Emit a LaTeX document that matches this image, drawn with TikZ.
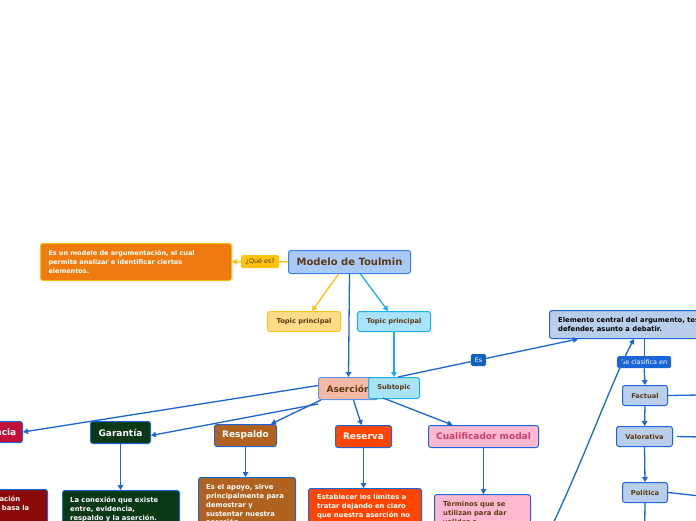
\documentclass[tikz,border=0pt]{standalone}
\usepackage{fontspec}
\setmainfont{DejaVu Sans}
\usetikzlibrary{arrows.meta,calc}
\definecolor{lblue}{HTML}{1A66D6}
\definecolor{mfill}{HTML}{A9C9F7}
\definecolor{mdraw}{HTML}{3B82E8}
\definecolor{yline}{HTML}{FFC20E}
\definecolor{yfill}{HTML}{FFDD88}
\definecolor{ydraw}{HTML}{FFC41F}
\definecolor{cline}{HTML}{1AAEEF}
\definecolor{cfill}{HTML}{A9E3FA}
\definecolor{ofill}{HTML}{EE7A10}
\definecolor{odraw}{HTML}{FDB913}
\definecolor{afill}{HTML}{F6B9A5}
\definecolor{brown}{HTML}{5B3A13}
\definecolor{evred}{HTML}{C2103B}
\definecolor{evdark}{HTML}{8A0A0A}
\definecolor{gargreen}{HTML}{0B3815}
\definecolor{respbrown}{HTML}{B0621E}
\definecolor{resred}{HTML}{FF4500}
\definecolor{pinkfill}{HTML}{FFB8CF}
\definecolor{pinktext}{HTML}{C8406A}
\definecolor{efill}{HTML}{B9CEEA}
\definecolor{esblue}{HTML}{1060C0}
\tikzset{
  box/.style={draw=lblue, line width=1pt, rounded corners=2.5pt, inner sep=0pt, anchor=north west, align=center},
  small/.style={font=\bfseries\fontsize{6.7}{8.8}\selectfont},
  big/.style={font=\bfseries\fontsize{9}{11}\selectfont},
  lbl/.style={inner sep=0pt, anchor=north west, rounded corners=1.5pt, font=\fontsize{6.4}{8}\selectfont},
  txt/.style={inner sep=0pt, anchor=north west, align=left, font=\bfseries\fontsize{6.8}{8.9}\selectfont},
  conn/.style={draw=lblue, line width=1.3pt},
  arr/.style={conn, -{Triangle[length=5pt,width=5.5pt]}},
  yarr/.style={draw=yline, line width=1.3pt},
  carr/.style={draw=cline, line width=1.3pt, -{Triangle[length=5pt,width=5.5pt]}},
}
\begin{document}
\begin{tikzpicture}[x=1pt,y=-1pt]
\useasboundingbox (0,0) rectangle (696,520);
\clip (0,0) rectangle (696,520);
\fill[white] (0,0) rectangle (696,520);

% central
\node[box, fill=mfill, draw=mdraw, minimum width=122pt, minimum height=23pt, text=brown, font=\bfseries\fontsize{10}{12}\selectfont] (modelo) at (288,250) {Modelo de Toulmin};
\node[lbl, fill=yline, text=brown, minimum width=38pt, minimum height=13pt] (que) at (241,255) {¿Qué es?};
\node[box, fill=ofill, draw=odraw, minimum width=191pt, minimum height=37pt, text=white, font=\bfseries\fontsize{6.5}{8.6}\selectfont, text width=175pt, align=left] (esun) at (40,243) {Es un modelo de argumentación, el cual\\permite analizar e identificar ciertos\\elementos.};
\draw[yarr] (modelo.west) -- (que.east);
\draw[yarr, -{Triangle[length=5pt,width=5.5pt]}] (que.west) -- (esun.east);

\node[box, fill=yfill, draw=ydraw, minimum width=73pt, minimum height=20pt, text=brown, small] (topy) at (267,311) {Topic principal};
\node[box, fill=cfill, draw=cline, minimum width=73pt, minimum height=20pt, text=brown, small] (topc) at (357,311) {Topic principal};
\draw[yarr, -{Triangle[length=5pt,width=5.5pt]}] ([xshift=-11pt]modelo.south) -- ([xshift=8pt]topy.north);
\draw[carr] ([xshift=11pt]modelo.south) -- ([xshift=-6pt]topc.north);

\node[box, fill=afill, draw=lblue!70, minimum width=60pt, minimum height=22pt, text=brown, big] (aser) at (318,377) {Aserción};
\draw[arr] (modelo.south) -- (aser.north);
\node[box, fill=cfill, draw=cline, minimum width=51pt, minimum height=21pt, text=brown, small] (sub) at (368,377) {Subtopic};
\draw[carr] (topc.south) -- (sub.north);

% right part
\node[box, fill=efill, minimum width=190pt, minimum height=28pt, text=black] (elem) at (549,310) {};
\node[txt, text=black] (elemt) at (558,317) {Elemento central del argumento, tesis a\\defender, asunto a debatir.};
\coordinate (esa) at ([xshift=4pt]sub.north);
\coordinate (esb) at ([xshift=29pt]elem.south west);
\node[lbl, fill=esblue, text=white, minimum width=15pt, minimum height=12pt, anchor=center] (es) at ($(esa)!0.447!(esb)$) {Es};
\draw[conn] (esa) -- (es);
\draw[arr] (es) -- (esb);

\node[box, fill=efill, minimum width=45pt, minimum height=20pt, text=brown, small] (factual) at (622,385) {Factual};
\node[box, fill=efill, minimum width=56pt, minimum height=20pt, text=brown, small] (valor) at (616,426) {Valorativa};
\node[box, fill=efill, minimum width=45pt, minimum height=20pt, text=brown, small] (polit) at (622,482) {Política};
\node[lbl, fill=lblue, text=white, minimum width=54pt, minimum height=12pt] (seclas) at (617,356) {Se clasifica en};
\draw[conn] (seclas.north |- elem.south) -- (seclas.north);
\draw[arr] (seclas.south) -- (factual.north);
\draw[arr] (factual.south) -- (valor.north);
\draw[arr] (valor.south) -- (polit.north);
\coordinate (polout) at (644.5,540);
\draw[conn] (polit.south) -- (polout);
\coordinate (facout) at (700,395);
\coordinate (valout) at (700,437);
\coordinate (polrt) at (700,496);
\draw[conn] (factual.east) -- (facout);
\draw[conn] ([xshift=4pt]valor.east) -- (valout);
\draw[conn] (polit.east) -- (polrt);
\coordinate (curvin) at (545,540);
\draw[arr] (curvin) .. controls (580,470) and (612,380) .. ([xshift=85pt]elem.south west);

% children of Asercion
\node[box, fill=evred, minimum width=61pt, minimum height=21pt, text=white, big] (evid) at (-39,421) {Evidencia};
\node[box, fill=gargreen, minimum width=60pt, minimum height=22pt, text=white, big] (gar) at (90,421) {Garantía};
\node[box, fill=respbrown, minimum width=62pt, minimum height=22pt, text=white, big] (resp) at (214,424) {Respaldo};
\node[box, fill=resred, minimum width=56pt, minimum height=22pt, text=white, big] (reserva) at (335,425) {Reserva};
\node[box, fill=pinkfill, minimum width=110pt, minimum height=22pt, text=pinktext, big] (cual) at (428,425) {Cualificador modal};
\draw[arr] ([yshift=3pt]aser.west) -- (evid.east);
\draw[arr] ([yshift=-4pt]aser.south west) -- ([yshift=-3pt]gar.east);
\draw[arr] ([xshift=3pt]aser.south west) -- ([xshift=-6pt]resp.north east);
\draw[arr] ([xshift=5pt]aser.south) -- ([xshift=-2pt]reserva.north);
\draw[arr] ([xshift=4pt,yshift=2pt]aser.south east) -- ([xshift=-31pt]cual.north);

% descriptions
\node[box, fill=evdark, minimum width=107pt, minimum height=70pt] (evidd) at (-60,489) {};
\node[txt, text=white] (evidt) at (-26,496) {Información\\que se basa la};
\node[box, fill=gargreen, minimum width=117pt, minimum height=70pt] (gard) at (62,490) {};
\node[txt, text=white] (gart) at (70,497) {La conexión que existe\\entre, evidencia,\\respaldo y la aserción.};
\node[box, fill=respbrown, minimum width=97pt, minimum height=70pt] (respd) at (198,477) {};
\node[txt, text=white] (respt) at (206,484) {Es el apoyo, sirve\\principalmente para\\demostrar y\\sustentar nuestra\\aserción.};
\node[box, fill=resred, minimum width=113pt, minimum height=70pt] (resd) at (308,488) {};
\node[txt, text=white] (rest) at (317,494) {Establecer los límites a\\tratar dejando en claro\\que nuestra aserción no};
\node[box, fill=pinkfill, minimum width=96pt, minimum height=70pt] (cuald) at (434,494) {};
\node[txt, text=brown] (cualt) at (443,501) {Términos que se\\utilizan para dar\\validez a};
\draw[arr] (gar.south) -- (gar.south |- gard.north);
\draw[arr] (resp.south) -- (resp.south |- respd.north);
\draw[arr] (reserva.south) -- (reserva.south |- resd.north);
\draw[arr] (cual.south) -- (cual.south |- cuald.north);
\end{tikzpicture}
\end{document}
